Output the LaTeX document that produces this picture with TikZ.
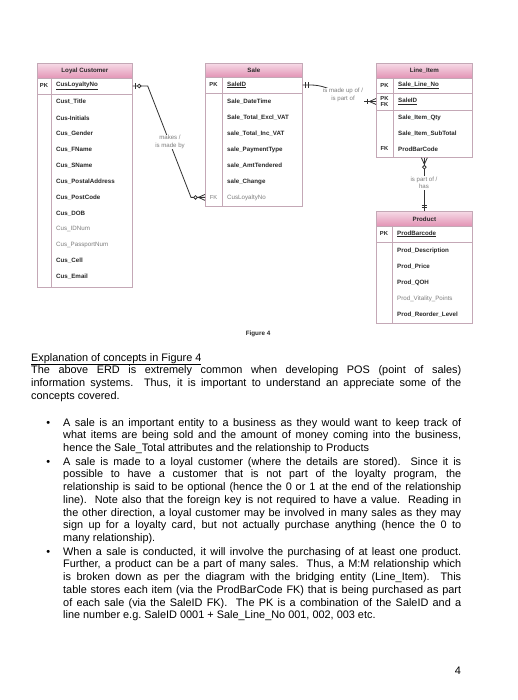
\documentclass[tikz,border=0pt]{standalone}
\usepackage{fontspec}
\setmainfont{Liberation Sans}
\usetikzlibrary{calc}
\definecolor{bordc}{RGB}{196,168,182}
\definecolor{hdtop}{RGB}{246,218,230}
\definecolor{hdbot}{RGB}{226,146,180}
\definecolor{fldc}{RGB}{40,40,40}
\definecolor{graytx}{RGB}{125,125,125}
\definecolor{linec}{RGB}{50,50,50}
\tikzset{
 tbox/.style={draw=bordc, line width=0.7pt, fill=white, inner sep=0pt, anchor=north west},
 thead/.style={draw=bordc, line width=0.7pt, top color=hdtop, bottom color=hdbot, inner sep=0pt, anchor=north west},
 tline/.style={draw=bordc, line width=0.7pt},
 fld/.style={anchor=west, inner sep=0pt, text=fldc, font=\bfseries\fontsize{6.2}{7}\selectfont},
 fldg/.style={anchor=west, inner sep=0pt, text=graytx, font=\fontsize{6.2}{7}\selectfont},
 keyl/.style={inner sep=0pt, text=fldc, align=center, font=\bfseries\fontsize{5.8}{5.8}\selectfont},
 keyg/.style={inner sep=0pt, text=graytx, font=\fontsize{5.8}{5.8}\selectfont},
 ttl/.style={inner sep=0pt, text=fldc, font=\bfseries\fontsize{6.2}{7}\selectfont},
 rel/.style={draw=linec, line width=0.8pt},
 rlab/.style={fill=white, inner sep=1pt, text=graytx, align=center, font=\fontsize{6.1}{7.2}\selectfont},
 bodytxt/.style={inner sep=0pt, anchor=base west, font=\fontsize{10.9}{12.75}\selectfont, text width=#1, align=justify},
 bodytxt/.default=398pt,
 bul/.style={inner sep=0pt, anchor=base, font=\fontsize{10.9}{12.75}\selectfont},
}
\begin{document}
\begin{tikzpicture}[x=1pt,y=-1pt]
\fill[white] (0,0) rectangle (517,700);
\path[use as bounding box] (0,0) rectangle (517,700);

% ---------- Loyal Customer ----------
\node[tbox, minimum width=95pt, minimum height=224pt] (lc) at (37,63) {};
\node[thead, minimum width=95pt, minimum height=15.5pt] (lch) at (37,63) {};
\node[ttl] (lct) at (lch.center) {Loyal Customer};
\draw[tline] (37,94) -- (132,94);
\draw[tline] (51,78.5) -- (51,287);
\node[keyl] (lcpkk) at (44,86) {PK};
\node[fld] (lcpk) at (56,86) {\underline{CusLoyaltyNo}};
\foreach \t/\s [count=\i from 0] in {Cust\_Title/fld, Cus-Initials/fld, Cus\_Gender/fld, Cus\_FName/fld, Cus\_SName/fld, Cus\_PostalAddress/fld, Cus\_PostCode/fld, Cus\_DOB/fld, Cus\_IDNum/fldg, Cus\_PassportNum/fldg, Cus\_Cell/fld, Cus\_Email/fld}
  \node[\s] (lcf\i) at (56,{102+15.91*\i}) {\t};

% ---------- Sale ----------
\node[tbox, minimum width=97pt, minimum height=143pt] (sale) at (205,63) {};
\node[thead, minimum width=97pt, minimum height=14pt] (saleh) at (205,63) {};
\node[ttl] (salet) at (saleh.center) {Sale};
\draw[tline] (205,93) -- (302,93);
\draw[tline] (222,77) -- (222,206);
\node[keyl] (salepkk) at (213.5,85) {PK};
\node[fld] (salepk) at (227,85) {\underline{SaleID}};
\foreach \t [count=\i from 0] in {Sale\_DateTime, Sale\_Total\_Excl\_VAT, sale\_Total\_Inc\_VAT, sale\_PaymentType, sale\_AmtTendered, sale\_Change}
  \node[fld] (salef\i) at (227,{102+15.9*\i}) {\t};
\node[keyg] (salefkk) at (213.5,197.4) {FK};
\node[fldg] (salefk) at (227,197.4) {CusLoyaltyNo};

% ---------- Line_Item ----------
\node[tbox, minimum width=96pt, minimum height=94pt] (li) at (376,63) {};
\node[thead, minimum width=96pt, minimum height=15pt] (lih) at (376,63) {};
\node[ttl] (lit) at (lih.center) {Line\_Item};
\draw[tline] (376,93) -- (472,93);
\draw[tline] (376,110) -- (472,110);
\draw[tline] (393,78) -- (393,157);
\node[keyl] (lipkk) at (384.5,85.5) {PK};
\node[fld] (lipk) at (398,85.5) {\underline{Sale\_Line\_No}};
\node[keyl] (lisidk) at (384.5,101.5) {PK\\FK};
\node[fld] (lisid) at (398,101.5) {\underline{SaleID}};
\node[fld] (liqty) at (398,118) {Sale\_Item\_Qty};
\node[fld] (lisub) at (398,133.5) {Sale\_Item\_SubTotal};
\node[keyl] (lifkk) at (384.5,149) {FK};
\node[fld] (lifk) at (398,149) {ProdBarCode};

% ---------- Product ----------
\node[tbox, minimum width=96pt, minimum height=112pt] (prod) at (376,211) {};
\node[thead, minimum width=96pt, minimum height=15pt] (prodh) at (376,211) {};
\node[ttl] (prodt) at (prodh.center) {Product};
\draw[tline] (376,242) -- (472,242);
\draw[tline] (392,226) -- (392,323);
\node[keyl] (prodpkk) at (384,234) {PK};
\node[fld] (prodpk) at (397,234) {\underline{ProdBarcode}};
\foreach \t/\s [count=\i from 0] in {Prod\_Description/fld, Prod\_Price/fld, Prod\_QOH/fld, Prod\_Vitality\_Points/fldg, Prod\_Reorder\_Level/fld}
  \node[\s] (prodf\i) at (397,{251+15.8*\i}) {\t};

% ---------- Relationship 1: Loyal Customer -- Sale ----------
\coordinate (r1a) at (lc.east |- lcpk);
\coordinate (r1b) at (sale.west |- salefk);
\draw[rel] (r1a) -- ++(15,0) -- ($(r1b)+(-14,0)$) -- (r1b);
\draw[rel] ($(r1a)+(2.5,-2.8)$) -- ($(r1a)+(2.5,2.8)$);
\draw[rel, fill=white] ($(r1a)+(6.5,0)$) circle (1.8pt);
\draw[rel] ($(r1b)+(-6.5,0)$) -- ($(r1b)+(0,-3)$);
\draw[rel] ($(r1b)+(-6.5,0)$) -- ($(r1b)+(0,3)$);
\draw[rel, fill=white] ($(r1b)+(-9.5,0)$) circle (1.8pt);
\node[rlab] (r1l) at (170,142) {makes /\\is made by};

% ---------- Relationship 2: Sale -- Line_Item ----------
\coordinate (r2a) at (sale.east |- salepk);
\coordinate (r2b) at (li.west |- lisid);
\draw[rel] (r2a) -- ++(8,0) .. controls ($(r2a)+(30,0)$) and ($(r2b)+(-30,0)$) .. ($(r2b)+(-14,0)$) -- (r2b);
\draw[rel] ($(r2a)+(3,-2.8)$) -- ($(r2a)+(3,2.8)$);
\draw[rel] ($(r2a)+(5.5,-2.8)$) -- ($(r2a)+(5.5,2.8)$);
\draw[rel] ($(r2b)+(-6.5,0)$) -- ($(r2b)+(0,-3)$);
\draw[rel] ($(r2b)+(-6.5,0)$) -- ($(r2b)+(0,3)$);
\draw[rel] ($(r2b)+(-8.5,-2.8)$) -- ($(r2b)+(-8.5,2.8)$);
\node[rlab] (r2l) at (343,95) {is made up of /\\is part of};

% ---------- Relationship 3: Line_Item -- Product ----------
\coordinate (r3a) at (li.south);
\coordinate (r3b) at (prod.north);
\draw[rel] (r3a) -- (r3b);
\draw[rel] ($(r3a)+(0,6.5)$) -- ($(r3a)+(-3,0)$);
\draw[rel] ($(r3a)+(0,6.5)$) -- ($(r3a)+(3,0)$);
\draw[rel, fill=white] ($(r3a)+(0,9.5)$) circle (1.8pt);
\node[rlab] (r3l) at (424,183) {is part of /\\has};
\draw[rel] ($(r3b)+(-2.8,-6)$) -- ($(r3b)+(2.8,-6)$);
\draw[rel] ($(r3b)+(-2.8,-3.5)$) -- ($(r3b)+(2.8,-3.5)$);

% ---------- Caption ----------
\node[inner sep=0pt, text=fldc, font=\bfseries\fontsize{6.3}{7}\selectfont] (fig) at (258,334) {Figure 4};

% ---------- Text ----------
\node[bul, anchor=base west] (head) at (31,361) {\underline{Explanation of concepts in Figure 4}};
\node[bodytxt=430pt] (p1) at (31,373.75) {The above ERD is extremely common when developing POS (point of sales)\linebreak information systems.\ \ Thus, it is important to understand an appreciate some of the\linebreak concepts covered.};

\node[bul] (b1) at (48.3,426) {•};
\node[bodytxt] (p2) at (63,426) {A sale is an important entity to a business as they would want to keep track of\linebreak what items are being sold and the amount of money coming into the business,\linebreak hence the Sale\_Total attributes and the relationship to Products};

\node[bul] (b2) at (48.3,465) {•};
\node[bodytxt] (p3) at (63,465) {A sale is made to a loyal customer (where the details are stored).\ \ Since it is\linebreak possible to have a customer that is not part of the loyalty program, the\linebreak relationship is said to be optional (hence the 0 or 1 at the end of the relationship\linebreak line).\ \ Note also that the foreign key is not required to have a value.\ \ Reading in\linebreak the other direction, a loyal customer may be involved in many sales as they may\linebreak sign up for a loyalty card, but not actually purchase anything (hence the 0 to\linebreak many relationship).};

\node[bul] (b3) at (48.3,555) {•};
\node[bodytxt] (p4) at (63,555) {When a sale is conducted, it will involve the purchasing of at least one product.\linebreak Further, a product can be a part of many sales.\ \ Thus, a M:M relationship which\linebreak is broken down as per the diagram with the bridging entity (Line\_Item).\ \ This\linebreak table stores each item (via the ProdBarCode FK) that is being purchased as part\linebreak of each sale (via the SaleID FK).\ \ The PK is a combination of the SaleID and a\linebreak line number e.g.\ SaleID 0001 + Sale\_Line\_No 001, 002, 003 etc.};

\node[bul] (pg) at (458,674) {4};
\end{tikzpicture}
\end{document}
